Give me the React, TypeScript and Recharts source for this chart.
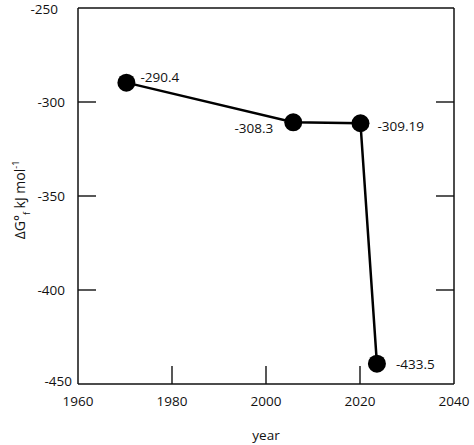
import React from 'react';
import { LineChart, Line, XAxis, YAxis, LabelList } from 'recharts';

// values
const years = [1970.3, 2005.8, 2020.1, 2023.6];
const dG = [-289.7, -310.8, -311.3, -439.2];
const pointLabels = ['-290.4', '-308.3', '-309.19', '-433.5'];

const xTicks = [1960, 1980, 2000, 2020, 2040];
const yTicks = [-250, -300, -350, -400, -450];
const xDomain = [1960, 2040];
const yDomain = [-450, -250];

const data = years.map((yr, i) => ({ year: yr, dG: dG[i], label: pointLabels[i] }));

// where each point label sits relative to its dot: [dx, dy, anchor]
const labelPlacement: [number, number, 'start' | 'end'][] = [
  [14, -1, 'start'],
  [-20, 11, 'end'],
  [17, 8, 'start'],
  [19, 5, 'start'],
];

// small nudges the original has on the corner labels of the y axis
const yLabelNudge: Record<number, [number, number]> = { [-250]: [-7, 1], [-450]: [7, -3] };

const INK = '#111';
const TICK = 18;
const FS = 13.5;

const BottomTick = ({ x, y, payload }: any) => {
  const v = payload.value;
  const inner = v !== xDomain[0] && v !== xDomain[1];
  return (
    <g>
      {inner && <line x1={x} x2={x} y1={y} y2={y - TICK} stroke={INK} strokeWidth={1.4} />}
      <text x={x} y={y + 22} textAnchor="middle" fontSize={FS} fill={INK}>
        {v}
      </text>
    </g>
  );
};

const LeftTick = ({ x, y, payload }: any) => {
  const v = payload.value;
  const inner = v !== yDomain[0] && v !== yDomain[1];
  const [dx, dy] = yLabelNudge[v] || [0, 0];
  return (
    <g>
      {inner && <line x1={x} x2={x + TICK} y1={y} y2={y} stroke={INK} strokeWidth={1.4} />}
      <text x={x - 13 + dx} y={y + 5 + dy} textAnchor="end" fontSize={FS} fill={INK}>
        {v}
      </text>
    </g>
  );
};

const RightTick = ({ x, y, payload }: any) => {
  const v = payload.value;
  if (v === yDomain[0] || v === yDomain[1]) return <g />;
  return <line x1={x} x2={x - TICK} y1={y} y2={y} stroke={INK} strokeWidth={1.4} />;
};

const YTitle = ({ viewBox }: any) => {
  const cy = viewBox.y + viewBox.height / 2 + 4;
  return (
    <text transform={`translate(25,${cy}) rotate(-90)`} textAnchor="middle" fontSize={14} fill={INK}>
      ΔG°
      <tspan fontSize={9} dy={5}>f</tspan>
      <tspan dy={-5}> kJ mol</tspan>
      <tspan fontSize={9} dy={-6}>-1</tspan>
    </text>
  );
};

const PointLabel = ({ x, y, index, value }: any) => {
  const [dx, dy, anchor] = labelPlacement[index];
  return (
    <text x={x + dx} y={y + dy} textAnchor={anchor} fontSize={FS} fill={INK}>
      {value}
    </text>
  );
};

export default function App() {
  return (
    <div style={{ position: 'absolute', left: 0, top: 0, width: 474, height: 445, fontFamily: '"Open Sans", sans-serif' }}>
      <LineChart width={474} height={445} data={data} margin={{ top: 0, right: 0, bottom: 0, left: 0 }}>
        <XAxis
          xAxisId="top"
          orientation="top"
          dataKey="year"
          type="number"
          domain={xDomain}
          allowDataOverflow
          height={8}
          tick={false}
          tickLine={false}
          axisLine={{ stroke: INK, strokeWidth: 1.5 }}
        />
        <XAxis
          dataKey="year"
          type="number"
          domain={xDomain}
          ticks={xTicks}
          allowDataOverflow
          interval={0}
          height={61}
          tickSize={0}
          tickMargin={0}
          tickLine={false}
          tick={<BottomTick />}
          axisLine={{ stroke: INK, strokeWidth: 1.5 }}
          label={{ value: 'year', position: 'insideBottom', offset: 5, fontSize: FS, fill: INK }}
        />
        <YAxis
          type="number"
          domain={yDomain}
          ticks={yTicks}
          allowDataOverflow
          interval={0}
          width={78}
          tickSize={0}
          tickMargin={0}
          tickLine={false}
          tick={<LeftTick />}
          axisLine={{ stroke: INK, strokeWidth: 1.5 }}
          label={<YTitle />}
        />
        <YAxis
          yAxisId="right"
          orientation="right"
          type="number"
          domain={yDomain}
          ticks={yTicks}
          allowDataOverflow
          interval={0}
          width={20}
          tickSize={0}
          tickMargin={0}
          tickLine={false}
          tick={<RightTick />}
          axisLine={{ stroke: INK, strokeWidth: 1.5 }}
        />
        <Line
          type="linear"
          dataKey="dG"
          stroke="#000"
          strokeWidth={2.5}
          dot={{ r: 9, fill: '#000', stroke: 'none' }}
          activeDot={false}
          isAnimationActive={false}
        >
          <LabelList dataKey="label" content={<PointLabel />} />
        </Line>
      </LineChart>
    </div>
  );
}
